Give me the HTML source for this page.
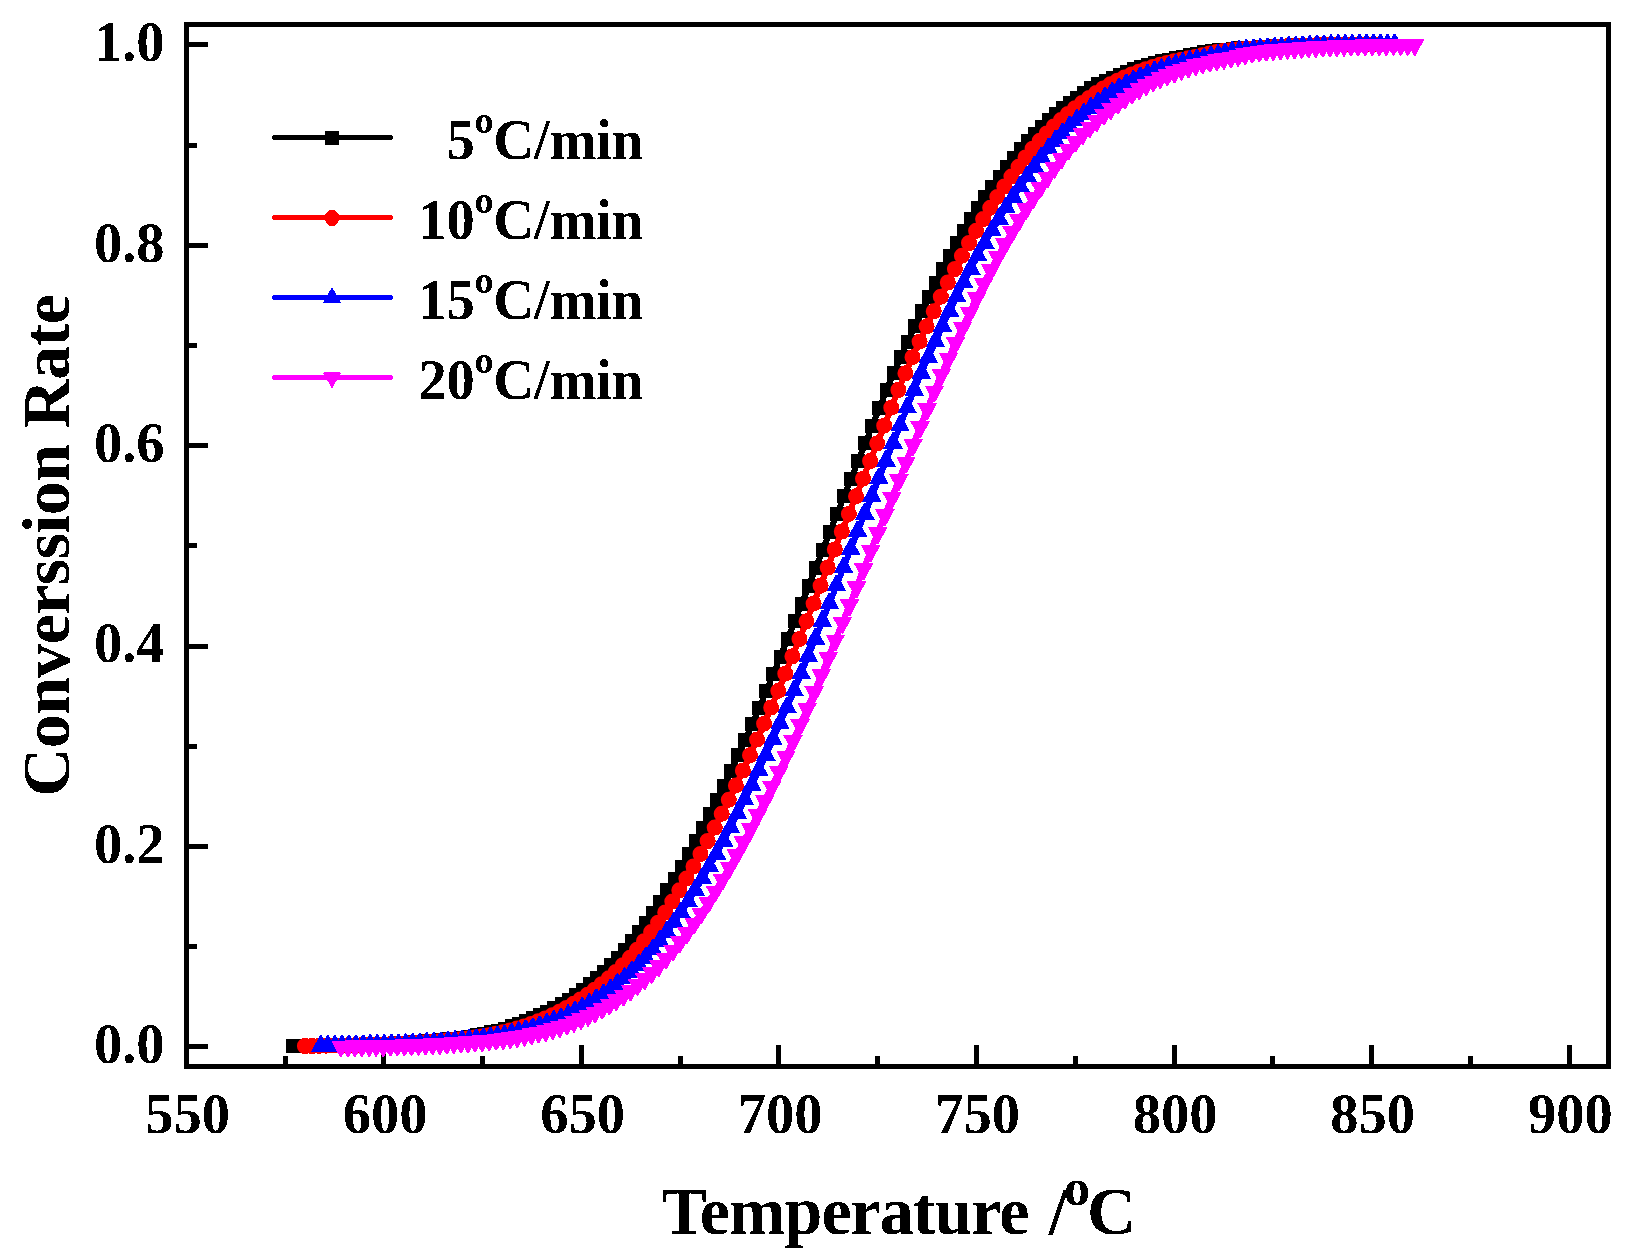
<!DOCTYPE html>
<html lang="en"><head><meta charset="utf-8"><title>Converssion Rate vs Temperature</title>
<style>
html,body{margin:0;padding:0;background:#fff;}
body{width:1633px;height:1251px;overflow:hidden;}
svg{display:block;}
svg text{font-family:"Liberation Serif","Times New Roman",serif;font-weight:bold;fill:#000;}
.tick text{font-size:56.5px;}
.legend text{font-size:56.5px;}
.title{font-size:68px;}
</style></head>
<body>
<svg width="1633" height="1251" viewBox="0 0 1633 1251">
<defs><filter id="alias" filterUnits="userSpaceOnUse" x="0" y="0" width="1633" height="1251" color-interpolation-filters="sRGB"><feComponentTransfer><feFuncA type="discrete" tableValues="0 1"/></feComponentTransfer></filter></defs>
<rect width="1633" height="1251" fill="#fff"/>
<g filter="url(#alias)">
<rect x="186.5" y="24.5" width="1422.0" height="1042.0" fill="none" stroke="#000" stroke-width="5.0" shape-rendering="crispEdges"/>
<path d="M285.5 1066.5v-10.5M383.5 1066.5v-21.5M482.5 1066.5v-10.5M581.5 1066.5v-21.5M680.5 1066.5v-10.5M778.5 1066.5v-21.5M877.5 1066.5v-10.5M976.5 1066.5v-21.5M1075.5 1066.5v-10.5M1174.5 1066.5v-21.5M1272.5 1066.5v-10.5M1371.5 1066.5v-21.5M1470.5 1066.5v-10.5M1569.5 1066.5v-21.5M186.5 1046.5h21.5M186.5 946.5h10.5M186.5 846.5h21.5M186.5 746.5h10.5M186.5 646.5h21.5M186.5 545.5h10.5M186.5 445.5h21.5M186.5 345.5h10.5M186.5 245.5h21.5M186.5 145.5h10.5M186.5 44.5h21.5" stroke="#000" stroke-width="5.0" fill="none" shape-rendering="crispEdges"/>
<g class="curves">
<path d="M293.0 1046.0 L300.1 1046.0 L307.1 1045.9 L314.2 1045.7 L321.3 1045.6 L328.3 1045.5 L335.4 1045.3 L342.5 1045.2 L349.5 1045.1 L356.6 1044.9 L363.6 1044.7 L370.7 1044.5 L377.8 1044.2 L384.8 1043.9 L391.9 1043.6 L399.0 1043.2 L406.0 1042.8 L413.1 1042.3 L420.2 1041.8 L427.2 1041.2 L434.3 1040.6 L441.4 1040.0 L448.4 1039.3 L455.5 1038.5 L462.6 1037.6 L469.6 1036.6 L476.7 1035.3 L483.8 1033.8 L490.8 1032.2 L497.9 1030.5 L505.0 1028.6 L512.0 1026.4 L519.1 1023.9 L526.1 1021.3 L533.2 1018.4 L540.3 1015.3 L547.3 1011.8 L554.4 1008.0 L561.5 1003.9 L568.5 999.5 L575.6 994.8 L582.7 989.7 L589.7 984.2 L596.8 978.4 L603.9 972.1 L610.9 965.3 L618.0 957.9 L625.1 949.8 L632.1 941.2 L639.2 932.2 L646.2 922.7 L653.3 912.5 L660.4 901.7 L667.4 890.3 L674.5 878.6 L681.6 866.6 L688.6 854.1 L695.7 841.1 L702.8 827.7 L709.8 813.9 L716.9 799.9 L724.0 785.5 L731.0 770.6 L738.1 755.3 L745.2 739.7 L752.2 723.8 L759.3 707.6 L766.4 690.9 L773.4 673.8 L780.5 656.5 L787.5 639.0 L794.6 621.4 L801.7 603.7 L808.7 585.8 L815.8 567.7 L822.9 549.5 L829.9 531.6 L837.0 514.0 L844.1 496.4 L851.1 478.8 L858.2 461.1 L865.3 443.4 L872.3 425.8 L879.4 407.9 L886.5 390.1 L893.5 373.4 L900.6 357.3 L907.7 341.7 L914.7 326.3 L921.8 311.4 L928.9 296.8 L935.9 282.6 L943.0 269.0 L950.0 255.9 L957.1 243.1 L964.2 230.9 L971.2 219.1 L978.3 207.9 L985.4 197.0 L992.4 186.6 L999.5 176.6 L1006.6 166.9 L1013.6 157.5 L1020.7 148.7 L1027.8 140.8 L1034.8 133.5 L1041.9 126.6 L1049.0 120.1 L1056.0 114.0 L1063.1 108.2 L1070.2 103.0 L1077.2 97.9 L1084.3 93.0 L1091.3 88.4 L1098.4 84.4 L1105.5 80.8 L1112.5 77.5 L1119.6 74.5 L1126.7 71.8 L1133.7 69.3 L1140.8 66.9 L1147.9 64.8 L1154.9 62.9 L1162.0 61.2 L1169.1 59.8 L1176.1 58.3 L1183.2 56.9 L1190.3 55.3 L1197.3 53.6 L1204.4 52.1 L1211.5 51.0 L1218.5 50.2 L1225.6 49.5 L1232.6 48.9 L1239.7 48.4 L1246.8 47.9 L1253.8 47.5 L1260.9 47.1 L1268.0 46.7 L1275.0 46.3 L1282.1 46.0 L1289.2 45.7 L1296.2 45.4 L1303.3 45.2 L1310.4 45.1 L1317.4 44.9 L1324.5 44.8 L1331.6 44.7 L1338.6 44.6 L1345.7 44.5 L1352.8 44.5 L1359.8 44.5 L1366.9 44.5" fill="none" stroke="#000000" stroke-width="6" stroke-linejoin="round" stroke-linecap="round"/>
<path d="M286.0 1039.0h14v14h-14zM293.1 1039.0h14v14h-14zM300.1 1038.9h14v14h-14zM307.2 1038.7h14v14h-14zM314.3 1038.6h14v14h-14zM321.3 1038.5h14v14h-14zM328.4 1038.3h14v14h-14zM335.5 1038.2h14v14h-14zM342.5 1038.1h14v14h-14zM349.6 1037.9h14v14h-14zM356.6 1037.7h14v14h-14zM363.7 1037.5h14v14h-14zM370.8 1037.2h14v14h-14zM377.8 1036.9h14v14h-14zM384.9 1036.6h14v14h-14zM392.0 1036.2h14v14h-14zM399.0 1035.8h14v14h-14zM406.1 1035.3h14v14h-14zM413.2 1034.8h14v14h-14zM420.2 1034.2h14v14h-14zM427.3 1033.6h14v14h-14zM434.4 1033.0h14v14h-14zM441.4 1032.3h14v14h-14zM448.5 1031.5h14v14h-14zM455.6 1030.6h14v14h-14zM462.6 1029.6h14v14h-14zM469.7 1028.3h14v14h-14zM476.8 1026.8h14v14h-14zM483.8 1025.2h14v14h-14zM490.9 1023.5h14v14h-14zM498.0 1021.6h14v14h-14zM505.0 1019.4h14v14h-14zM512.1 1016.9h14v14h-14zM519.1 1014.3h14v14h-14zM526.2 1011.4h14v14h-14zM533.3 1008.3h14v14h-14zM540.3 1004.8h14v14h-14zM547.4 1001.0h14v14h-14zM554.5 996.9h14v14h-14zM561.5 992.5h14v14h-14zM568.6 987.8h14v14h-14zM575.7 982.7h14v14h-14zM582.7 977.2h14v14h-14zM589.8 971.4h14v14h-14zM596.9 965.1h14v14h-14zM603.9 958.3h14v14h-14zM611.0 950.9h14v14h-14zM618.1 942.8h14v14h-14zM625.1 934.2h14v14h-14zM632.2 925.2h14v14h-14zM639.2 915.7h14v14h-14zM646.3 905.5h14v14h-14zM653.4 894.7h14v14h-14zM660.4 883.3h14v14h-14zM667.5 871.6h14v14h-14zM674.6 859.6h14v14h-14zM681.6 847.1h14v14h-14zM688.7 834.1h14v14h-14zM695.8 820.7h14v14h-14zM702.8 806.9h14v14h-14zM709.9 792.9h14v14h-14zM717.0 778.5h14v14h-14zM724.0 763.6h14v14h-14zM731.1 748.3h14v14h-14zM738.2 732.7h14v14h-14zM745.2 716.8h14v14h-14zM752.3 700.6h14v14h-14zM759.4 683.9h14v14h-14zM766.4 666.8h14v14h-14zM773.5 649.5h14v14h-14zM780.5 632.0h14v14h-14zM787.6 614.4h14v14h-14zM794.7 596.7h14v14h-14zM801.7 578.8h14v14h-14zM808.8 560.7h14v14h-14zM815.9 542.5h14v14h-14zM822.9 524.6h14v14h-14zM830.0 507.0h14v14h-14zM837.1 489.4h14v14h-14zM844.1 471.8h14v14h-14zM851.2 454.1h14v14h-14zM858.3 436.4h14v14h-14zM865.3 418.8h14v14h-14zM872.4 400.9h14v14h-14zM879.5 383.1h14v14h-14zM886.5 366.4h14v14h-14zM893.6 350.3h14v14h-14zM900.7 334.7h14v14h-14zM907.7 319.3h14v14h-14zM914.8 304.4h14v14h-14zM921.9 289.8h14v14h-14zM928.9 275.6h14v14h-14zM936.0 262.0h14v14h-14zM943.0 248.9h14v14h-14zM950.1 236.1h14v14h-14zM957.2 223.9h14v14h-14zM964.2 212.1h14v14h-14zM971.3 200.9h14v14h-14zM978.4 190.0h14v14h-14zM985.4 179.6h14v14h-14zM992.5 169.6h14v14h-14zM999.6 159.9h14v14h-14zM1006.6 150.5h14v14h-14zM1013.7 141.7h14v14h-14zM1020.8 133.8h14v14h-14zM1027.8 126.5h14v14h-14zM1034.9 119.6h14v14h-14zM1042.0 113.1h14v14h-14zM1049.0 107.0h14v14h-14zM1056.1 101.2h14v14h-14zM1063.2 96.0h14v14h-14zM1070.2 90.9h14v14h-14zM1077.3 86.0h14v14h-14zM1084.3 81.4h14v14h-14zM1091.4 77.4h14v14h-14zM1098.5 73.8h14v14h-14zM1105.5 70.5h14v14h-14zM1112.6 67.5h14v14h-14zM1119.7 64.8h14v14h-14zM1126.7 62.3h14v14h-14zM1133.8 59.9h14v14h-14zM1140.9 57.8h14v14h-14zM1147.9 55.9h14v14h-14zM1155.0 54.2h14v14h-14zM1162.1 52.8h14v14h-14zM1169.1 51.3h14v14h-14zM1176.2 49.9h14v14h-14zM1183.3 48.3h14v14h-14zM1190.3 46.6h14v14h-14zM1197.4 45.1h14v14h-14zM1204.5 44.0h14v14h-14zM1211.5 43.2h14v14h-14zM1218.6 42.5h14v14h-14zM1225.6 41.9h14v14h-14zM1232.7 41.4h14v14h-14zM1239.8 40.9h14v14h-14zM1246.8 40.5h14v14h-14zM1253.9 40.1h14v14h-14zM1261.0 39.7h14v14h-14zM1268.0 39.3h14v14h-14zM1275.1 39.0h14v14h-14zM1282.2 38.7h14v14h-14zM1289.2 38.4h14v14h-14zM1296.3 38.2h14v14h-14zM1303.4 38.1h14v14h-14zM1310.4 37.9h14v14h-14zM1317.5 37.8h14v14h-14zM1324.6 37.7h14v14h-14zM1331.6 37.6h14v14h-14zM1338.7 37.5h14v14h-14zM1345.8 37.5h14v14h-14zM1352.8 37.5h14v14h-14zM1359.9 37.5h14v14h-14z" fill="#000000" shape-rendering="crispEdges"/>
<path d="M304.9 1046.0 L312.0 1046.0 L319.0 1045.9 L326.1 1045.7 L333.2 1045.6 L340.2 1045.5 L347.3 1045.3 L354.4 1045.2 L361.4 1045.1 L368.5 1044.9 L375.5 1044.7 L382.6 1044.5 L389.7 1044.2 L396.7 1043.9 L403.8 1043.6 L410.9 1043.2 L417.9 1042.8 L425.0 1042.3 L432.1 1041.8 L439.1 1041.2 L446.2 1040.6 L453.3 1040.0 L460.3 1039.3 L467.4 1038.5 L474.5 1037.6 L481.5 1036.5 L488.6 1035.3 L495.7 1033.8 L502.7 1032.2 L509.8 1030.5 L516.9 1028.5 L523.9 1026.4 L531.0 1023.9 L538.0 1021.3 L545.1 1018.4 L552.2 1015.3 L559.2 1011.8 L566.3 1008.0 L573.4 1003.8 L580.4 999.4 L587.5 994.8 L594.6 989.7 L601.6 984.2 L608.7 978.3 L615.8 972.0 L622.8 965.2 L629.9 957.8 L637.0 949.8 L644.0 941.2 L651.1 932.1 L658.1 922.7 L665.2 912.4 L672.3 901.6 L679.3 890.3 L686.4 878.6 L693.5 866.5 L700.5 854.0 L707.6 841.0 L714.7 827.6 L721.7 813.8 L728.8 799.8 L735.9 785.4 L742.9 770.5 L750.0 755.2 L757.1 739.6 L764.1 723.7 L771.2 707.5 L778.3 690.8 L785.3 673.7 L792.4 656.3 L799.5 638.9 L806.5 621.3 L813.6 603.6 L820.6 585.7 L827.7 567.5 L834.8 549.4 L841.8 531.5 L848.9 513.9 L856.0 496.3 L863.0 478.7 L870.1 461.0 L877.2 443.3 L884.2 425.7 L891.3 407.7 L898.4 390.0 L905.4 373.3 L912.5 357.2 L919.6 341.6 L926.6 326.3 L933.7 311.3 L940.8 296.7 L947.8 282.5 L954.9 269.0 L961.9 255.8 L969.0 243.0 L976.1 230.8 L983.1 219.1 L990.2 207.8 L997.3 196.9 L1004.3 186.5 L1011.4 176.6 L1018.5 166.8 L1025.5 157.5 L1032.6 148.7 L1039.7 140.8 L1046.7 133.4 L1053.8 126.5 L1060.9 120.1 L1067.9 113.9 L1075.0 108.2 L1082.1 103.0 L1089.1 97.9 L1096.2 92.9 L1103.2 88.4 L1110.3 84.3 L1117.4 80.7 L1124.4 77.5 L1131.5 74.5 L1138.6 71.8 L1145.6 69.2 L1152.7 66.9 L1159.8 64.8 L1166.8 62.9 L1173.9 61.2 L1181.0 59.8 L1188.0 58.3 L1195.1 56.9 L1202.2 55.2 L1209.2 53.6 L1216.3 52.1 L1223.3 51.0 L1230.4 50.2 L1237.5 49.5 L1244.5 48.9 L1251.6 48.4 L1258.7 47.9 L1265.7 47.5 L1272.8 47.1 L1279.9 46.7 L1286.9 46.3 L1294.0 46.0 L1301.1 45.7 L1308.1 45.4 L1315.2 45.2 L1322.3 45.1 L1329.3 44.9 L1336.4 44.8 L1343.5 44.7 L1350.5 44.6 L1357.6 44.5 L1364.7 44.5 L1371.7 44.5 L1378.8 44.5" fill="none" stroke="#ff0000" stroke-width="6" stroke-linejoin="round" stroke-linecap="round"/>
<path d="M296.9 1046.0a8.0 8.0 0 1 0 16.0 0a8.0 8.0 0 1 0 -16.0 0zM304.0 1046.0a8.0 8.0 0 1 0 16.0 0a8.0 8.0 0 1 0 -16.0 0zM311.0 1045.9a8.0 8.0 0 1 0 16.0 0a8.0 8.0 0 1 0 -16.0 0zM318.1 1045.7a8.0 8.0 0 1 0 16.0 0a8.0 8.0 0 1 0 -16.0 0zM325.2 1045.6a8.0 8.0 0 1 0 16.0 0a8.0 8.0 0 1 0 -16.0 0zM332.2 1045.5a8.0 8.0 0 1 0 16.0 0a8.0 8.0 0 1 0 -16.0 0zM339.3 1045.3a8.0 8.0 0 1 0 16.0 0a8.0 8.0 0 1 0 -16.0 0zM346.4 1045.2a8.0 8.0 0 1 0 16.0 0a8.0 8.0 0 1 0 -16.0 0zM353.4 1045.1a8.0 8.0 0 1 0 16.0 0a8.0 8.0 0 1 0 -16.0 0zM360.5 1044.9a8.0 8.0 0 1 0 16.0 0a8.0 8.0 0 1 0 -16.0 0zM367.5 1044.7a8.0 8.0 0 1 0 16.0 0a8.0 8.0 0 1 0 -16.0 0zM374.6 1044.5a8.0 8.0 0 1 0 16.0 0a8.0 8.0 0 1 0 -16.0 0zM381.7 1044.2a8.0 8.0 0 1 0 16.0 0a8.0 8.0 0 1 0 -16.0 0zM388.7 1043.9a8.0 8.0 0 1 0 16.0 0a8.0 8.0 0 1 0 -16.0 0zM395.8 1043.6a8.0 8.0 0 1 0 16.0 0a8.0 8.0 0 1 0 -16.0 0zM402.9 1043.2a8.0 8.0 0 1 0 16.0 0a8.0 8.0 0 1 0 -16.0 0zM409.9 1042.8a8.0 8.0 0 1 0 16.0 0a8.0 8.0 0 1 0 -16.0 0zM417.0 1042.3a8.0 8.0 0 1 0 16.0 0a8.0 8.0 0 1 0 -16.0 0zM424.1 1041.8a8.0 8.0 0 1 0 16.0 0a8.0 8.0 0 1 0 -16.0 0zM431.1 1041.2a8.0 8.0 0 1 0 16.0 0a8.0 8.0 0 1 0 -16.0 0zM438.2 1040.6a8.0 8.0 0 1 0 16.0 0a8.0 8.0 0 1 0 -16.0 0zM445.3 1040.0a8.0 8.0 0 1 0 16.0 0a8.0 8.0 0 1 0 -16.0 0zM452.3 1039.3a8.0 8.0 0 1 0 16.0 0a8.0 8.0 0 1 0 -16.0 0zM459.4 1038.5a8.0 8.0 0 1 0 16.0 0a8.0 8.0 0 1 0 -16.0 0zM466.5 1037.6a8.0 8.0 0 1 0 16.0 0a8.0 8.0 0 1 0 -16.0 0zM473.5 1036.5a8.0 8.0 0 1 0 16.0 0a8.0 8.0 0 1 0 -16.0 0zM480.6 1035.3a8.0 8.0 0 1 0 16.0 0a8.0 8.0 0 1 0 -16.0 0zM487.7 1033.8a8.0 8.0 0 1 0 16.0 0a8.0 8.0 0 1 0 -16.0 0zM494.7 1032.2a8.0 8.0 0 1 0 16.0 0a8.0 8.0 0 1 0 -16.0 0zM501.8 1030.5a8.0 8.0 0 1 0 16.0 0a8.0 8.0 0 1 0 -16.0 0zM508.9 1028.5a8.0 8.0 0 1 0 16.0 0a8.0 8.0 0 1 0 -16.0 0zM515.9 1026.4a8.0 8.0 0 1 0 16.0 0a8.0 8.0 0 1 0 -16.0 0zM523.0 1023.9a8.0 8.0 0 1 0 16.0 0a8.0 8.0 0 1 0 -16.0 0zM530.0 1021.3a8.0 8.0 0 1 0 16.0 0a8.0 8.0 0 1 0 -16.0 0zM537.1 1018.4a8.0 8.0 0 1 0 16.0 0a8.0 8.0 0 1 0 -16.0 0zM544.2 1015.3a8.0 8.0 0 1 0 16.0 0a8.0 8.0 0 1 0 -16.0 0zM551.2 1011.8a8.0 8.0 0 1 0 16.0 0a8.0 8.0 0 1 0 -16.0 0zM558.3 1008.0a8.0 8.0 0 1 0 16.0 0a8.0 8.0 0 1 0 -16.0 0zM565.4 1003.8a8.0 8.0 0 1 0 16.0 0a8.0 8.0 0 1 0 -16.0 0zM572.4 999.4a8.0 8.0 0 1 0 16.0 0a8.0 8.0 0 1 0 -16.0 0zM579.5 994.8a8.0 8.0 0 1 0 16.0 0a8.0 8.0 0 1 0 -16.0 0zM586.6 989.7a8.0 8.0 0 1 0 16.0 0a8.0 8.0 0 1 0 -16.0 0zM593.6 984.2a8.0 8.0 0 1 0 16.0 0a8.0 8.0 0 1 0 -16.0 0zM600.7 978.3a8.0 8.0 0 1 0 16.0 0a8.0 8.0 0 1 0 -16.0 0zM607.8 972.0a8.0 8.0 0 1 0 16.0 0a8.0 8.0 0 1 0 -16.0 0zM614.8 965.2a8.0 8.0 0 1 0 16.0 0a8.0 8.0 0 1 0 -16.0 0zM621.9 957.8a8.0 8.0 0 1 0 16.0 0a8.0 8.0 0 1 0 -16.0 0zM629.0 949.8a8.0 8.0 0 1 0 16.0 0a8.0 8.0 0 1 0 -16.0 0zM636.0 941.2a8.0 8.0 0 1 0 16.0 0a8.0 8.0 0 1 0 -16.0 0zM643.1 932.1a8.0 8.0 0 1 0 16.0 0a8.0 8.0 0 1 0 -16.0 0zM650.1 922.7a8.0 8.0 0 1 0 16.0 0a8.0 8.0 0 1 0 -16.0 0zM657.2 912.4a8.0 8.0 0 1 0 16.0 0a8.0 8.0 0 1 0 -16.0 0zM664.3 901.6a8.0 8.0 0 1 0 16.0 0a8.0 8.0 0 1 0 -16.0 0zM671.3 890.3a8.0 8.0 0 1 0 16.0 0a8.0 8.0 0 1 0 -16.0 0zM678.4 878.6a8.0 8.0 0 1 0 16.0 0a8.0 8.0 0 1 0 -16.0 0zM685.5 866.5a8.0 8.0 0 1 0 16.0 0a8.0 8.0 0 1 0 -16.0 0zM692.5 854.0a8.0 8.0 0 1 0 16.0 0a8.0 8.0 0 1 0 -16.0 0zM699.6 841.0a8.0 8.0 0 1 0 16.0 0a8.0 8.0 0 1 0 -16.0 0zM706.7 827.6a8.0 8.0 0 1 0 16.0 0a8.0 8.0 0 1 0 -16.0 0zM713.7 813.8a8.0 8.0 0 1 0 16.0 0a8.0 8.0 0 1 0 -16.0 0zM720.8 799.8a8.0 8.0 0 1 0 16.0 0a8.0 8.0 0 1 0 -16.0 0zM727.9 785.4a8.0 8.0 0 1 0 16.0 0a8.0 8.0 0 1 0 -16.0 0zM734.9 770.5a8.0 8.0 0 1 0 16.0 0a8.0 8.0 0 1 0 -16.0 0zM742.0 755.2a8.0 8.0 0 1 0 16.0 0a8.0 8.0 0 1 0 -16.0 0zM749.1 739.6a8.0 8.0 0 1 0 16.0 0a8.0 8.0 0 1 0 -16.0 0zM756.1 723.7a8.0 8.0 0 1 0 16.0 0a8.0 8.0 0 1 0 -16.0 0zM763.2 707.5a8.0 8.0 0 1 0 16.0 0a8.0 8.0 0 1 0 -16.0 0zM770.3 690.8a8.0 8.0 0 1 0 16.0 0a8.0 8.0 0 1 0 -16.0 0zM777.3 673.7a8.0 8.0 0 1 0 16.0 0a8.0 8.0 0 1 0 -16.0 0zM784.4 656.3a8.0 8.0 0 1 0 16.0 0a8.0 8.0 0 1 0 -16.0 0zM791.5 638.9a8.0 8.0 0 1 0 16.0 0a8.0 8.0 0 1 0 -16.0 0zM798.5 621.3a8.0 8.0 0 1 0 16.0 0a8.0 8.0 0 1 0 -16.0 0zM805.6 603.6a8.0 8.0 0 1 0 16.0 0a8.0 8.0 0 1 0 -16.0 0zM812.6 585.7a8.0 8.0 0 1 0 16.0 0a8.0 8.0 0 1 0 -16.0 0zM819.7 567.5a8.0 8.0 0 1 0 16.0 0a8.0 8.0 0 1 0 -16.0 0zM826.8 549.4a8.0 8.0 0 1 0 16.0 0a8.0 8.0 0 1 0 -16.0 0zM833.8 531.5a8.0 8.0 0 1 0 16.0 0a8.0 8.0 0 1 0 -16.0 0zM840.9 513.9a8.0 8.0 0 1 0 16.0 0a8.0 8.0 0 1 0 -16.0 0zM848.0 496.3a8.0 8.0 0 1 0 16.0 0a8.0 8.0 0 1 0 -16.0 0zM855.0 478.7a8.0 8.0 0 1 0 16.0 0a8.0 8.0 0 1 0 -16.0 0zM862.1 461.0a8.0 8.0 0 1 0 16.0 0a8.0 8.0 0 1 0 -16.0 0zM869.2 443.3a8.0 8.0 0 1 0 16.0 0a8.0 8.0 0 1 0 -16.0 0zM876.2 425.7a8.0 8.0 0 1 0 16.0 0a8.0 8.0 0 1 0 -16.0 0zM883.3 407.7a8.0 8.0 0 1 0 16.0 0a8.0 8.0 0 1 0 -16.0 0zM890.4 390.0a8.0 8.0 0 1 0 16.0 0a8.0 8.0 0 1 0 -16.0 0zM897.4 373.3a8.0 8.0 0 1 0 16.0 0a8.0 8.0 0 1 0 -16.0 0zM904.5 357.2a8.0 8.0 0 1 0 16.0 0a8.0 8.0 0 1 0 -16.0 0zM911.6 341.6a8.0 8.0 0 1 0 16.0 0a8.0 8.0 0 1 0 -16.0 0zM918.6 326.3a8.0 8.0 0 1 0 16.0 0a8.0 8.0 0 1 0 -16.0 0zM925.7 311.3a8.0 8.0 0 1 0 16.0 0a8.0 8.0 0 1 0 -16.0 0zM932.8 296.7a8.0 8.0 0 1 0 16.0 0a8.0 8.0 0 1 0 -16.0 0zM939.8 282.5a8.0 8.0 0 1 0 16.0 0a8.0 8.0 0 1 0 -16.0 0zM946.9 269.0a8.0 8.0 0 1 0 16.0 0a8.0 8.0 0 1 0 -16.0 0zM953.9 255.8a8.0 8.0 0 1 0 16.0 0a8.0 8.0 0 1 0 -16.0 0zM961.0 243.0a8.0 8.0 0 1 0 16.0 0a8.0 8.0 0 1 0 -16.0 0zM968.1 230.8a8.0 8.0 0 1 0 16.0 0a8.0 8.0 0 1 0 -16.0 0zM975.1 219.1a8.0 8.0 0 1 0 16.0 0a8.0 8.0 0 1 0 -16.0 0zM982.2 207.8a8.0 8.0 0 1 0 16.0 0a8.0 8.0 0 1 0 -16.0 0zM989.3 196.9a8.0 8.0 0 1 0 16.0 0a8.0 8.0 0 1 0 -16.0 0zM996.3 186.5a8.0 8.0 0 1 0 16.0 0a8.0 8.0 0 1 0 -16.0 0zM1003.4 176.6a8.0 8.0 0 1 0 16.0 0a8.0 8.0 0 1 0 -16.0 0zM1010.5 166.8a8.0 8.0 0 1 0 16.0 0a8.0 8.0 0 1 0 -16.0 0zM1017.5 157.5a8.0 8.0 0 1 0 16.0 0a8.0 8.0 0 1 0 -16.0 0zM1024.6 148.7a8.0 8.0 0 1 0 16.0 0a8.0 8.0 0 1 0 -16.0 0zM1031.7 140.8a8.0 8.0 0 1 0 16.0 0a8.0 8.0 0 1 0 -16.0 0zM1038.7 133.4a8.0 8.0 0 1 0 16.0 0a8.0 8.0 0 1 0 -16.0 0zM1045.8 126.5a8.0 8.0 0 1 0 16.0 0a8.0 8.0 0 1 0 -16.0 0zM1052.9 120.1a8.0 8.0 0 1 0 16.0 0a8.0 8.0 0 1 0 -16.0 0zM1059.9 113.9a8.0 8.0 0 1 0 16.0 0a8.0 8.0 0 1 0 -16.0 0zM1067.0 108.2a8.0 8.0 0 1 0 16.0 0a8.0 8.0 0 1 0 -16.0 0zM1074.1 103.0a8.0 8.0 0 1 0 16.0 0a8.0 8.0 0 1 0 -16.0 0zM1081.1 97.9a8.0 8.0 0 1 0 16.0 0a8.0 8.0 0 1 0 -16.0 0zM1088.2 92.9a8.0 8.0 0 1 0 16.0 0a8.0 8.0 0 1 0 -16.0 0zM1095.2 88.4a8.0 8.0 0 1 0 16.0 0a8.0 8.0 0 1 0 -16.0 0zM1102.3 84.3a8.0 8.0 0 1 0 16.0 0a8.0 8.0 0 1 0 -16.0 0zM1109.4 80.7a8.0 8.0 0 1 0 16.0 0a8.0 8.0 0 1 0 -16.0 0zM1116.4 77.5a8.0 8.0 0 1 0 16.0 0a8.0 8.0 0 1 0 -16.0 0zM1123.5 74.5a8.0 8.0 0 1 0 16.0 0a8.0 8.0 0 1 0 -16.0 0zM1130.6 71.8a8.0 8.0 0 1 0 16.0 0a8.0 8.0 0 1 0 -16.0 0zM1137.6 69.2a8.0 8.0 0 1 0 16.0 0a8.0 8.0 0 1 0 -16.0 0zM1144.7 66.9a8.0 8.0 0 1 0 16.0 0a8.0 8.0 0 1 0 -16.0 0zM1151.8 64.8a8.0 8.0 0 1 0 16.0 0a8.0 8.0 0 1 0 -16.0 0zM1158.8 62.9a8.0 8.0 0 1 0 16.0 0a8.0 8.0 0 1 0 -16.0 0zM1165.9 61.2a8.0 8.0 0 1 0 16.0 0a8.0 8.0 0 1 0 -16.0 0zM1173.0 59.8a8.0 8.0 0 1 0 16.0 0a8.0 8.0 0 1 0 -16.0 0zM1180.0 58.3a8.0 8.0 0 1 0 16.0 0a8.0 8.0 0 1 0 -16.0 0zM1187.1 56.9a8.0 8.0 0 1 0 16.0 0a8.0 8.0 0 1 0 -16.0 0zM1194.2 55.2a8.0 8.0 0 1 0 16.0 0a8.0 8.0 0 1 0 -16.0 0zM1201.2 53.6a8.0 8.0 0 1 0 16.0 0a8.0 8.0 0 1 0 -16.0 0zM1208.3 52.1a8.0 8.0 0 1 0 16.0 0a8.0 8.0 0 1 0 -16.0 0zM1215.3 51.0a8.0 8.0 0 1 0 16.0 0a8.0 8.0 0 1 0 -16.0 0zM1222.4 50.2a8.0 8.0 0 1 0 16.0 0a8.0 8.0 0 1 0 -16.0 0zM1229.5 49.5a8.0 8.0 0 1 0 16.0 0a8.0 8.0 0 1 0 -16.0 0zM1236.5 48.9a8.0 8.0 0 1 0 16.0 0a8.0 8.0 0 1 0 -16.0 0zM1243.6 48.4a8.0 8.0 0 1 0 16.0 0a8.0 8.0 0 1 0 -16.0 0zM1250.7 47.9a8.0 8.0 0 1 0 16.0 0a8.0 8.0 0 1 0 -16.0 0zM1257.7 47.5a8.0 8.0 0 1 0 16.0 0a8.0 8.0 0 1 0 -16.0 0zM1264.8 47.1a8.0 8.0 0 1 0 16.0 0a8.0 8.0 0 1 0 -16.0 0zM1271.9 46.7a8.0 8.0 0 1 0 16.0 0a8.0 8.0 0 1 0 -16.0 0zM1278.9 46.3a8.0 8.0 0 1 0 16.0 0a8.0 8.0 0 1 0 -16.0 0zM1286.0 46.0a8.0 8.0 0 1 0 16.0 0a8.0 8.0 0 1 0 -16.0 0zM1293.1 45.7a8.0 8.0 0 1 0 16.0 0a8.0 8.0 0 1 0 -16.0 0zM1300.1 45.4a8.0 8.0 0 1 0 16.0 0a8.0 8.0 0 1 0 -16.0 0zM1307.2 45.2a8.0 8.0 0 1 0 16.0 0a8.0 8.0 0 1 0 -16.0 0zM1314.3 45.1a8.0 8.0 0 1 0 16.0 0a8.0 8.0 0 1 0 -16.0 0zM1321.3 44.9a8.0 8.0 0 1 0 16.0 0a8.0 8.0 0 1 0 -16.0 0zM1328.4 44.8a8.0 8.0 0 1 0 16.0 0a8.0 8.0 0 1 0 -16.0 0zM1335.5 44.7a8.0 8.0 0 1 0 16.0 0a8.0 8.0 0 1 0 -16.0 0zM1342.5 44.6a8.0 8.0 0 1 0 16.0 0a8.0 8.0 0 1 0 -16.0 0zM1349.6 44.5a8.0 8.0 0 1 0 16.0 0a8.0 8.0 0 1 0 -16.0 0zM1356.7 44.5a8.0 8.0 0 1 0 16.0 0a8.0 8.0 0 1 0 -16.0 0zM1363.7 44.5a8.0 8.0 0 1 0 16.0 0a8.0 8.0 0 1 0 -16.0 0zM1370.8 44.5a8.0 8.0 0 1 0 16.0 0a8.0 8.0 0 1 0 -16.0 0z" fill="#ff0000"/>
<path d="M320.8 1046.0 L327.9 1046.0 L334.9 1045.9 L342.0 1045.7 L349.1 1045.6 L356.1 1045.5 L363.2 1045.3 L370.3 1045.2 L377.3 1045.1 L384.4 1044.9 L391.5 1044.7 L398.5 1044.5 L405.6 1044.2 L412.6 1043.9 L419.7 1043.6 L426.8 1043.2 L433.8 1042.8 L440.9 1042.3 L448.0 1041.8 L455.0 1041.2 L462.1 1040.6 L469.2 1040.0 L476.2 1039.3 L483.3 1038.5 L490.4 1037.6 L497.4 1036.5 L504.5 1035.3 L511.6 1033.8 L518.6 1032.2 L525.7 1030.4 L532.8 1028.5 L539.8 1026.3 L546.9 1023.9 L553.9 1021.2 L561.0 1018.4 L568.1 1015.2 L575.1 1011.7 L582.2 1007.9 L589.3 1003.8 L596.3 999.4 L603.4 994.7 L610.5 989.6 L617.5 984.1 L624.6 978.2 L631.7 971.9 L638.7 965.2 L645.8 957.7 L652.9 949.6 L659.9 941.1 L667.0 932.0 L674.0 922.5 L681.1 912.3 L688.2 901.5 L695.2 890.1 L702.3 878.4 L709.4 866.4 L716.4 853.8 L723.5 840.8 L730.6 827.4 L737.6 813.6 L744.7 799.6 L751.8 785.2 L758.8 770.3 L765.9 755.0 L773.0 739.4 L780.0 723.5 L787.1 707.3 L794.2 690.5 L801.2 673.4 L808.3 656.1 L815.4 638.7 L822.4 621.1 L829.5 603.4 L836.5 585.5 L843.6 567.3 L850.7 549.2 L857.7 531.3 L864.8 513.7 L871.9 496.1 L878.9 478.4 L886.0 460.8 L893.1 443.1 L900.1 425.5 L907.2 407.5 L914.3 389.8 L921.3 373.1 L928.4 357.0 L935.5 341.4 L942.5 326.1 L949.6 311.1 L956.7 296.5 L963.7 282.4 L970.8 268.8 L977.8 255.6 L984.9 242.9 L992.0 230.6 L999.0 218.9 L1006.1 207.6 L1013.2 196.8 L1020.2 186.4 L1027.3 176.4 L1034.4 166.7 L1041.4 157.3 L1048.5 148.6 L1055.6 140.7 L1062.6 133.3 L1069.7 126.5 L1076.8 120.0 L1083.8 113.9 L1090.9 108.1 L1098.0 102.9 L1105.0 97.8 L1112.1 92.9 L1119.1 88.3 L1126.2 84.3 L1133.3 80.7 L1140.3 77.4 L1147.4 74.5 L1154.5 71.7 L1161.5 69.2 L1168.6 66.9 L1175.7 64.8 L1182.7 62.9 L1189.8 61.2 L1196.9 59.7 L1203.9 58.3 L1211.0 56.8 L1218.1 55.2 L1225.1 53.6 L1232.2 52.1 L1239.2 51.0 L1246.3 50.2 L1253.4 49.5 L1260.4 48.9 L1267.5 48.4 L1274.6 47.9 L1281.6 47.5 L1288.7 47.1 L1295.8 46.7 L1302.8 46.3 L1309.9 46.0 L1317.0 45.7 L1324.0 45.4 L1331.1 45.2 L1338.2 45.1 L1345.2 44.9 L1352.3 44.8 L1359.4 44.7 L1366.4 44.6 L1373.5 44.5 L1380.5 44.5 L1387.6 44.5 L1394.7 44.5" fill="none" stroke="#0000ff" stroke-width="6" stroke-linejoin="round" stroke-linecap="round"/>
<path d="M320.0 1035.2h1.6l9.0 16.6h-19.6zM327.1 1035.2h1.6l9.0 16.6h-19.6zM334.1 1035.1h1.6l9.0 16.6h-19.6zM341.2 1034.9h1.6l9.0 16.6h-19.6zM348.3 1034.8h1.6l9.0 16.6h-19.6zM355.3 1034.7h1.6l9.0 16.6h-19.6zM362.4 1034.5h1.6l9.0 16.6h-19.6zM369.5 1034.4h1.6l9.0 16.6h-19.6zM376.5 1034.3h1.6l9.0 16.6h-19.6zM383.6 1034.1h1.6l9.0 16.6h-19.6zM390.7 1033.9h1.6l9.0 16.6h-19.6zM397.7 1033.7h1.6l9.0 16.6h-19.6zM404.8 1033.4h1.6l9.0 16.6h-19.6zM411.8 1033.1h1.6l9.0 16.6h-19.6zM418.9 1032.8h1.6l9.0 16.6h-19.6zM426.0 1032.4h1.6l9.0 16.6h-19.6zM433.0 1032.0h1.6l9.0 16.6h-19.6zM440.1 1031.5h1.6l9.0 16.6h-19.6zM447.2 1031.0h1.6l9.0 16.6h-19.6zM454.2 1030.4h1.6l9.0 16.6h-19.6zM461.3 1029.8h1.6l9.0 16.6h-19.6zM468.4 1029.2h1.6l9.0 16.6h-19.6zM475.4 1028.5h1.6l9.0 16.6h-19.6zM482.5 1027.7h1.6l9.0 16.6h-19.6zM489.6 1026.8h1.6l9.0 16.6h-19.6zM496.6 1025.7h1.6l9.0 16.6h-19.6zM503.7 1024.5h1.6l9.0 16.6h-19.6zM510.8 1023.0h1.6l9.0 16.6h-19.6zM517.8 1021.4h1.6l9.0 16.6h-19.6zM524.9 1019.6h1.6l9.0 16.6h-19.6zM532.0 1017.7h1.6l9.0 16.6h-19.6zM539.0 1015.5h1.6l9.0 16.6h-19.6zM546.1 1013.1h1.6l9.0 16.6h-19.6zM553.1 1010.4h1.6l9.0 16.6h-19.6zM560.2 1007.6h1.6l9.0 16.6h-19.6zM567.3 1004.4h1.6l9.0 16.6h-19.6zM574.3 1000.9h1.6l9.0 16.6h-19.6zM581.4 997.1h1.6l9.0 16.6h-19.6zM588.5 993.0h1.6l9.0 16.6h-19.6zM595.5 988.6h1.6l9.0 16.6h-19.6zM602.6 983.9h1.6l9.0 16.6h-19.6zM609.7 978.8h1.6l9.0 16.6h-19.6zM616.7 973.3h1.6l9.0 16.6h-19.6zM623.8 967.4h1.6l9.0 16.6h-19.6zM630.9 961.1h1.6l9.0 16.6h-19.6zM637.9 954.4h1.6l9.0 16.6h-19.6zM645.0 946.9h1.6l9.0 16.6h-19.6zM652.1 938.8h1.6l9.0 16.6h-19.6zM659.1 930.3h1.6l9.0 16.6h-19.6zM666.2 921.2h1.6l9.0 16.6h-19.6zM673.2 911.7h1.6l9.0 16.6h-19.6zM680.3 901.5h1.6l9.0 16.6h-19.6zM687.4 890.7h1.6l9.0 16.6h-19.6zM694.4 879.3h1.6l9.0 16.6h-19.6zM701.5 867.6h1.6l9.0 16.6h-19.6zM708.6 855.6h1.6l9.0 16.6h-19.6zM715.6 843.0h1.6l9.0 16.6h-19.6zM722.7 830.0h1.6l9.0 16.6h-19.6zM729.8 816.6h1.6l9.0 16.6h-19.6zM736.8 802.8h1.6l9.0 16.6h-19.6zM743.9 788.8h1.6l9.0 16.6h-19.6zM751.0 774.4h1.6l9.0 16.6h-19.6zM758.0 759.5h1.6l9.0 16.6h-19.6zM765.1 744.2h1.6l9.0 16.6h-19.6zM772.2 728.6h1.6l9.0 16.6h-19.6zM779.2 712.7h1.6l9.0 16.6h-19.6zM786.3 696.5h1.6l9.0 16.6h-19.6zM793.4 679.7h1.6l9.0 16.6h-19.6zM800.4 662.6h1.6l9.0 16.6h-19.6zM807.5 645.3h1.6l9.0 16.6h-19.6zM814.6 627.9h1.6l9.0 16.6h-19.6zM821.6 610.3h1.6l9.0 16.6h-19.6zM828.7 592.6h1.6l9.0 16.6h-19.6zM835.7 574.7h1.6l9.0 16.6h-19.6zM842.8 556.5h1.6l9.0 16.6h-19.6zM849.9 538.4h1.6l9.0 16.6h-19.6zM856.9 520.5h1.6l9.0 16.6h-19.6zM864.0 502.9h1.6l9.0 16.6h-19.6zM871.1 485.3h1.6l9.0 16.6h-19.6zM878.1 467.6h1.6l9.0 16.6h-19.6zM885.2 450.0h1.6l9.0 16.6h-19.6zM892.3 432.3h1.6l9.0 16.6h-19.6zM899.3 414.7h1.6l9.0 16.6h-19.6zM906.4 396.7h1.6l9.0 16.6h-19.6zM913.5 379.0h1.6l9.0 16.6h-19.6zM920.5 362.3h1.6l9.0 16.6h-19.6zM927.6 346.2h1.6l9.0 16.6h-19.6zM934.7 330.6h1.6l9.0 16.6h-19.6zM941.7 315.3h1.6l9.0 16.6h-19.6zM948.8 300.3h1.6l9.0 16.6h-19.6zM955.9 285.7h1.6l9.0 16.6h-19.6zM962.9 271.6h1.6l9.0 16.6h-19.6zM970.0 258.0h1.6l9.0 16.6h-19.6zM977.0 244.8h1.6l9.0 16.6h-19.6zM984.1 232.1h1.6l9.0 16.6h-19.6zM991.2 219.8h1.6l9.0 16.6h-19.6zM998.2 208.1h1.6l9.0 16.6h-19.6zM1005.3 196.8h1.6l9.0 16.6h-19.6zM1012.4 186.0h1.6l9.0 16.6h-19.6zM1019.4 175.6h1.6l9.0 16.6h-19.6zM1026.5 165.6h1.6l9.0 16.6h-19.6zM1033.6 155.9h1.6l9.0 16.6h-19.6zM1040.6 146.5h1.6l9.0 16.6h-19.6zM1047.7 137.8h1.6l9.0 16.6h-19.6zM1054.8 129.9h1.6l9.0 16.6h-19.6zM1061.8 122.5h1.6l9.0 16.6h-19.6zM1068.9 115.7h1.6l9.0 16.6h-19.6zM1076.0 109.2h1.6l9.0 16.6h-19.6zM1083.0 103.1h1.6l9.0 16.6h-19.6zM1090.1 97.3h1.6l9.0 16.6h-19.6zM1097.2 92.1h1.6l9.0 16.6h-19.6zM1104.2 87.0h1.6l9.0 16.6h-19.6zM1111.3 82.1h1.6l9.0 16.6h-19.6zM1118.3 77.5h1.6l9.0 16.6h-19.6zM1125.4 73.5h1.6l9.0 16.6h-19.6zM1132.5 69.9h1.6l9.0 16.6h-19.6zM1139.5 66.6h1.6l9.0 16.6h-19.6zM1146.6 63.7h1.6l9.0 16.6h-19.6zM1153.7 60.9h1.6l9.0 16.6h-19.6zM1160.7 58.4h1.6l9.0 16.6h-19.6zM1167.8 56.1h1.6l9.0 16.6h-19.6zM1174.9 54.0h1.6l9.0 16.6h-19.6zM1181.9 52.1h1.6l9.0 16.6h-19.6zM1189.0 50.4h1.6l9.0 16.6h-19.6zM1196.1 48.9h1.6l9.0 16.6h-19.6zM1203.1 47.5h1.6l9.0 16.6h-19.6zM1210.2 46.0h1.6l9.0 16.6h-19.6zM1217.3 44.4h1.6l9.0 16.6h-19.6zM1224.3 42.8h1.6l9.0 16.6h-19.6zM1231.4 41.3h1.6l9.0 16.6h-19.6zM1238.5 40.2h1.6l9.0 16.6h-19.6zM1245.5 39.4h1.6l9.0 16.6h-19.6zM1252.6 38.7h1.6l9.0 16.6h-19.6zM1259.6 38.1h1.6l9.0 16.6h-19.6zM1266.7 37.6h1.6l9.0 16.6h-19.6zM1273.8 37.1h1.6l9.0 16.6h-19.6zM1280.8 36.7h1.6l9.0 16.6h-19.6zM1287.9 36.3h1.6l9.0 16.6h-19.6zM1295.0 35.9h1.6l9.0 16.6h-19.6zM1302.0 35.5h1.6l9.0 16.6h-19.6zM1309.1 35.2h1.6l9.0 16.6h-19.6zM1316.2 34.9h1.6l9.0 16.6h-19.6zM1323.2 34.6h1.6l9.0 16.6h-19.6zM1330.3 34.4h1.6l9.0 16.6h-19.6zM1337.4 34.3h1.6l9.0 16.6h-19.6zM1344.4 34.1h1.6l9.0 16.6h-19.6zM1351.5 34.0h1.6l9.0 16.6h-19.6zM1358.6 33.9h1.6l9.0 16.6h-19.6zM1365.6 33.8h1.6l9.0 16.6h-19.6zM1372.7 33.7h1.6l9.0 16.6h-19.6zM1379.8 33.7h1.6l9.0 16.6h-19.6zM1386.8 33.7h1.6l9.0 16.6h-19.6zM1393.9 33.7h1.6l9.0 16.6h-19.6z" fill="#0000ff" shape-rendering="crispEdges"/>
<path d="M340.8 1046.0 L347.9 1046.0 L354.9 1045.9 L362.0 1045.7 L369.1 1045.6 L376.1 1045.5 L383.2 1045.4 L390.3 1045.2 L397.3 1045.1 L404.4 1044.9 L411.5 1044.7 L418.5 1044.5 L425.6 1044.2 L432.6 1043.9 L439.7 1043.6 L446.8 1043.3 L453.8 1042.8 L460.9 1042.3 L468.0 1041.8 L475.0 1041.2 L482.1 1040.7 L489.2 1040.0 L496.2 1039.3 L503.3 1038.6 L510.4 1037.7 L517.4 1036.6 L524.5 1035.4 L531.6 1033.9 L538.6 1032.3 L545.7 1030.6 L552.8 1028.7 L559.8 1026.5 L566.9 1024.1 L573.9 1021.4 L581.0 1018.6 L588.1 1015.5 L595.1 1012.0 L602.2 1008.2 L609.3 1004.1 L616.3 999.7 L623.4 995.1 L630.5 990.0 L637.5 984.6 L644.6 978.7 L651.7 972.4 L658.7 965.7 L665.8 958.3 L672.9 950.3 L679.9 941.7 L687.0 932.7 L694.0 923.3 L701.1 913.1 L708.2 902.3 L715.2 891.0 L722.3 879.3 L729.4 867.3 L736.4 854.8 L743.5 841.9 L750.6 828.5 L757.6 814.7 L764.7 800.7 L771.8 786.3 L778.8 771.5 L785.9 756.2 L793.0 740.6 L800.0 724.7 L807.1 708.6 L814.2 691.9 L821.2 674.8 L828.3 657.5 L835.4 640.0 L842.4 622.5 L849.5 604.8 L856.5 586.9 L863.6 568.7 L870.7 550.6 L877.7 532.7 L884.8 515.0 L891.9 497.5 L898.9 479.8 L906.0 462.2 L913.1 444.5 L920.1 426.8 L927.2 408.9 L934.3 391.1 L941.3 374.4 L948.4 358.3 L955.5 342.6 L962.5 327.2 L969.6 312.2 L976.7 297.6 L983.7 283.4 L990.8 269.8 L997.8 256.6 L1004.9 243.9 L1012.0 231.6 L1019.0 219.8 L1026.1 208.5 L1033.2 197.6 L1040.2 187.2 L1047.3 177.2 L1054.4 167.5 L1061.4 158.0 L1068.5 149.2 L1075.6 141.3 L1082.6 133.9 L1089.7 127.0 L1096.8 120.5 L1103.8 114.3 L1110.9 108.5 L1118.0 103.3 L1125.0 98.2 L1132.1 93.3 L1139.1 88.6 L1146.2 84.6 L1153.3 81.0 L1160.3 77.7 L1167.4 74.7 L1174.5 71.9 L1181.5 69.4 L1188.6 67.0 L1195.7 64.9 L1202.7 63.0 L1209.8 61.3 L1216.9 59.9 L1223.9 58.4 L1231.0 57.0 L1238.1 55.4 L1245.1 53.7 L1252.2 52.2 L1259.2 51.1 L1266.3 50.3 L1273.4 49.6 L1280.4 49.0 L1287.5 48.4 L1294.6 48.0 L1301.6 47.5 L1308.7 47.1 L1315.8 46.7 L1322.8 46.3 L1329.9 46.0 L1337.0 45.7 L1344.0 45.4 L1351.1 45.3 L1358.2 45.1 L1365.2 44.9 L1372.3 44.8 L1379.4 44.7 L1386.4 44.6 L1393.5 44.5 L1400.5 44.5 L1407.6 44.5 L1414.7 44.5" fill="none" stroke="#ff00ff" stroke-width="6" stroke-linejoin="round" stroke-linecap="round"/>
<path d="M340.0 1057.1h1.6l9.0 -16.6h-19.6zM347.1 1057.1h1.6l9.0 -16.6h-19.6zM354.1 1057.0h1.6l9.0 -16.6h-19.6zM361.2 1056.8h1.6l9.0 -16.6h-19.6zM368.3 1056.7h1.6l9.0 -16.6h-19.6zM375.3 1056.6h1.6l9.0 -16.6h-19.6zM382.4 1056.5h1.6l9.0 -16.6h-19.6zM389.5 1056.3h1.6l9.0 -16.6h-19.6zM396.5 1056.2h1.6l9.0 -16.6h-19.6zM403.6 1056.0h1.6l9.0 -16.6h-19.6zM410.7 1055.8h1.6l9.0 -16.6h-19.6zM417.7 1055.6h1.6l9.0 -16.6h-19.6zM424.8 1055.3h1.6l9.0 -16.6h-19.6zM431.8 1055.0h1.6l9.0 -16.6h-19.6zM438.9 1054.7h1.6l9.0 -16.6h-19.6zM446.0 1054.4h1.6l9.0 -16.6h-19.6zM453.0 1053.9h1.6l9.0 -16.6h-19.6zM460.1 1053.4h1.6l9.0 -16.6h-19.6zM467.2 1052.9h1.6l9.0 -16.6h-19.6zM474.2 1052.3h1.6l9.0 -16.6h-19.6zM481.3 1051.8h1.6l9.0 -16.6h-19.6zM488.4 1051.1h1.6l9.0 -16.6h-19.6zM495.4 1050.4h1.6l9.0 -16.6h-19.6zM502.5 1049.7h1.6l9.0 -16.6h-19.6zM509.6 1048.8h1.6l9.0 -16.6h-19.6zM516.6 1047.7h1.6l9.0 -16.6h-19.6zM523.7 1046.5h1.6l9.0 -16.6h-19.6zM530.8 1045.0h1.6l9.0 -16.6h-19.6zM537.8 1043.4h1.6l9.0 -16.6h-19.6zM544.9 1041.7h1.6l9.0 -16.6h-19.6zM552.0 1039.8h1.6l9.0 -16.6h-19.6zM559.0 1037.6h1.6l9.0 -16.6h-19.6zM566.1 1035.2h1.6l9.0 -16.6h-19.6zM573.1 1032.5h1.6l9.0 -16.6h-19.6zM580.2 1029.7h1.6l9.0 -16.6h-19.6zM587.3 1026.6h1.6l9.0 -16.6h-19.6zM594.3 1023.1h1.6l9.0 -16.6h-19.6zM601.4 1019.3h1.6l9.0 -16.6h-19.6zM608.5 1015.2h1.6l9.0 -16.6h-19.6zM615.5 1010.8h1.6l9.0 -16.6h-19.6zM622.6 1006.2h1.6l9.0 -16.6h-19.6zM629.7 1001.1h1.6l9.0 -16.6h-19.6zM636.7 995.7h1.6l9.0 -16.6h-19.6zM643.8 989.8h1.6l9.0 -16.6h-19.6zM650.9 983.5h1.6l9.0 -16.6h-19.6zM657.9 976.8h1.6l9.0 -16.6h-19.6zM665.0 969.4h1.6l9.0 -16.6h-19.6zM672.1 961.4h1.6l9.0 -16.6h-19.6zM679.1 952.8h1.6l9.0 -16.6h-19.6zM686.2 943.8h1.6l9.0 -16.6h-19.6zM693.2 934.4h1.6l9.0 -16.6h-19.6zM700.3 924.2h1.6l9.0 -16.6h-19.6zM707.4 913.4h1.6l9.0 -16.6h-19.6zM714.4 902.1h1.6l9.0 -16.6h-19.6zM721.5 890.4h1.6l9.0 -16.6h-19.6zM728.6 878.4h1.6l9.0 -16.6h-19.6zM735.6 865.9h1.6l9.0 -16.6h-19.6zM742.7 853.0h1.6l9.0 -16.6h-19.6zM749.8 839.6h1.6l9.0 -16.6h-19.6zM756.8 825.8h1.6l9.0 -16.6h-19.6zM763.9 811.8h1.6l9.0 -16.6h-19.6zM771.0 797.4h1.6l9.0 -16.6h-19.6zM778.0 782.6h1.6l9.0 -16.6h-19.6zM785.1 767.3h1.6l9.0 -16.6h-19.6zM792.2 751.7h1.6l9.0 -16.6h-19.6zM799.2 735.8h1.6l9.0 -16.6h-19.6zM806.3 719.7h1.6l9.0 -16.6h-19.6zM813.4 703.0h1.6l9.0 -16.6h-19.6zM820.4 685.9h1.6l9.0 -16.6h-19.6zM827.5 668.6h1.6l9.0 -16.6h-19.6zM834.6 651.1h1.6l9.0 -16.6h-19.6zM841.6 633.6h1.6l9.0 -16.6h-19.6zM848.7 615.9h1.6l9.0 -16.6h-19.6zM855.7 598.0h1.6l9.0 -16.6h-19.6zM862.8 579.8h1.6l9.0 -16.6h-19.6zM869.9 561.7h1.6l9.0 -16.6h-19.6zM876.9 543.8h1.6l9.0 -16.6h-19.6zM884.0 526.1h1.6l9.0 -16.6h-19.6zM891.1 508.6h1.6l9.0 -16.6h-19.6zM898.1 490.9h1.6l9.0 -16.6h-19.6zM905.2 473.3h1.6l9.0 -16.6h-19.6zM912.3 455.6h1.6l9.0 -16.6h-19.6zM919.3 437.9h1.6l9.0 -16.6h-19.6zM926.4 420.0h1.6l9.0 -16.6h-19.6zM933.5 402.2h1.6l9.0 -16.6h-19.6zM940.5 385.5h1.6l9.0 -16.6h-19.6zM947.6 369.4h1.6l9.0 -16.6h-19.6zM954.7 353.7h1.6l9.0 -16.6h-19.6zM961.7 338.3h1.6l9.0 -16.6h-19.6zM968.8 323.3h1.6l9.0 -16.6h-19.6zM975.9 308.7h1.6l9.0 -16.6h-19.6zM982.9 294.5h1.6l9.0 -16.6h-19.6zM990.0 280.9h1.6l9.0 -16.6h-19.6zM997.0 267.7h1.6l9.0 -16.6h-19.6zM1004.1 255.0h1.6l9.0 -16.6h-19.6zM1011.2 242.7h1.6l9.0 -16.6h-19.6zM1018.2 230.9h1.6l9.0 -16.6h-19.6zM1025.3 219.6h1.6l9.0 -16.6h-19.6zM1032.4 208.7h1.6l9.0 -16.6h-19.6zM1039.4 198.3h1.6l9.0 -16.6h-19.6zM1046.5 188.3h1.6l9.0 -16.6h-19.6zM1053.6 178.6h1.6l9.0 -16.6h-19.6zM1060.6 169.1h1.6l9.0 -16.6h-19.6zM1067.7 160.3h1.6l9.0 -16.6h-19.6zM1074.8 152.4h1.6l9.0 -16.6h-19.6zM1081.8 145.0h1.6l9.0 -16.6h-19.6zM1088.9 138.1h1.6l9.0 -16.6h-19.6zM1096.0 131.6h1.6l9.0 -16.6h-19.6zM1103.0 125.4h1.6l9.0 -16.6h-19.6zM1110.1 119.6h1.6l9.0 -16.6h-19.6zM1117.2 114.4h1.6l9.0 -16.6h-19.6zM1124.2 109.3h1.6l9.0 -16.6h-19.6zM1131.3 104.4h1.6l9.0 -16.6h-19.6zM1138.3 99.7h1.6l9.0 -16.6h-19.6zM1145.4 95.7h1.6l9.0 -16.6h-19.6zM1152.5 92.1h1.6l9.0 -16.6h-19.6zM1159.5 88.8h1.6l9.0 -16.6h-19.6zM1166.6 85.8h1.6l9.0 -16.6h-19.6zM1173.7 83.0h1.6l9.0 -16.6h-19.6zM1180.7 80.5h1.6l9.0 -16.6h-19.6zM1187.8 78.1h1.6l9.0 -16.6h-19.6zM1194.9 76.0h1.6l9.0 -16.6h-19.6zM1201.9 74.1h1.6l9.0 -16.6h-19.6zM1209.0 72.4h1.6l9.0 -16.6h-19.6zM1216.1 71.0h1.6l9.0 -16.6h-19.6zM1223.1 69.5h1.6l9.0 -16.6h-19.6zM1230.2 68.1h1.6l9.0 -16.6h-19.6zM1237.3 66.5h1.6l9.0 -16.6h-19.6zM1244.3 64.8h1.6l9.0 -16.6h-19.6zM1251.4 63.3h1.6l9.0 -16.6h-19.6zM1258.5 62.2h1.6l9.0 -16.6h-19.6zM1265.5 61.4h1.6l9.0 -16.6h-19.6zM1272.6 60.7h1.6l9.0 -16.6h-19.6zM1279.6 60.1h1.6l9.0 -16.6h-19.6zM1286.7 59.5h1.6l9.0 -16.6h-19.6zM1293.8 59.1h1.6l9.0 -16.6h-19.6zM1300.8 58.6h1.6l9.0 -16.6h-19.6zM1307.9 58.2h1.6l9.0 -16.6h-19.6zM1315.0 57.8h1.6l9.0 -16.6h-19.6zM1322.0 57.4h1.6l9.0 -16.6h-19.6zM1329.1 57.1h1.6l9.0 -16.6h-19.6zM1336.2 56.8h1.6l9.0 -16.6h-19.6zM1343.2 56.5h1.6l9.0 -16.6h-19.6zM1350.3 56.4h1.6l9.0 -16.6h-19.6zM1357.4 56.2h1.6l9.0 -16.6h-19.6zM1364.4 56.0h1.6l9.0 -16.6h-19.6zM1371.5 55.9h1.6l9.0 -16.6h-19.6zM1378.6 55.8h1.6l9.0 -16.6h-19.6zM1385.6 55.7h1.6l9.0 -16.6h-19.6zM1392.7 55.6h1.6l9.0 -16.6h-19.6zM1399.8 55.6h1.6l9.0 -16.6h-19.6zM1406.8 55.6h1.6l9.0 -16.6h-19.6zM1413.9 55.6h1.6l9.0 -16.6h-19.6z" fill="#ff00ff" shape-rendering="crispEdges"/>
</g>
<g class="tick">
<text x="187.5" y="1133.2" text-anchor="middle">550</text>
<text x="385.0" y="1133.2" text-anchor="middle">600</text>
<text x="582.6" y="1133.2" text-anchor="middle">650</text>
<text x="780.1" y="1133.2" text-anchor="middle">700</text>
<text x="977.7" y="1133.2" text-anchor="middle">750</text>
<text x="1175.2" y="1133.2" text-anchor="middle">800</text>
<text x="1372.7" y="1133.2" text-anchor="middle">850</text>
<text x="1570.3" y="1133.2" text-anchor="middle">900</text>
<text x="164.5" y="1063.2" text-anchor="end">0.0</text>
<text x="164.5" y="862.8" text-anchor="end">0.2</text>
<text x="164.5" y="662.4" text-anchor="end">0.4</text>
<text x="164.5" y="462.0" text-anchor="end">0.6</text>
<text x="164.5" y="261.6" text-anchor="end">0.8</text>
<text x="164.5" y="61.2" text-anchor="end">1.0</text>
</g>
<g class="legend">
<path d="M274.5 137.4H390.5" stroke="#000000" stroke-width="5" stroke-linecap="round"/>
<rect x="325" y="131.0" width="14" height="14" fill="#000000"/>
<text x="643" y="159.0" text-anchor="end" letter-spacing="-0.2">5<tspan dy="-26" font-size="38">o</tspan><tspan dy="26">C/min</tspan></text>
<path d="M274.5 217.4H390.5" stroke="#ff0000" stroke-width="5" stroke-linecap="round"/>
<ellipse cx="332" cy="218.0" rx="7.3" ry="8" fill="#ff0000"/>
<text x="643" y="239.0" text-anchor="end" letter-spacing="-0.2">10<tspan dy="-26" font-size="38">o</tspan><tspan dy="26">C/min</tspan></text>
<path d="M274.5 297.4H390.5" stroke="#0000ff" stroke-width="5" stroke-linecap="round"/>
<path d="M332 287.0l9.1 15.9h-18.2z" fill="#0000ff"/>
<text x="643" y="319.0" text-anchor="end" letter-spacing="-0.2">15<tspan dy="-26" font-size="38">o</tspan><tspan dy="26">C/min</tspan></text>
<path d="M274.5 377.4H390.5" stroke="#ff00ff" stroke-width="5" stroke-linecap="round"/>
<path d="M332 388.4l9.1 -16h-18.2z" fill="#ff00ff"/>
<text x="643" y="399.0" text-anchor="end" letter-spacing="-0.2">20<tspan dy="-26" font-size="38">o</tspan><tspan dy="26">C/min</tspan></text>
</g>
<text class="title" y="1233.5"><tspan x="661.5" textLength="368" lengthAdjust="spacing">Temperature</tspan><tspan x="1048.5">/</tspan><tspan x="1064" dy="-28.7" font-size="52">o</tspan><tspan x="1087" dy="28.7">C</tspan></text>
<text class="title" transform="translate(69 545.7) rotate(-90)" text-anchor="middle" letter-spacing="-0.62">Converssion Rate</text>
</g>
</svg>
</body></html>
